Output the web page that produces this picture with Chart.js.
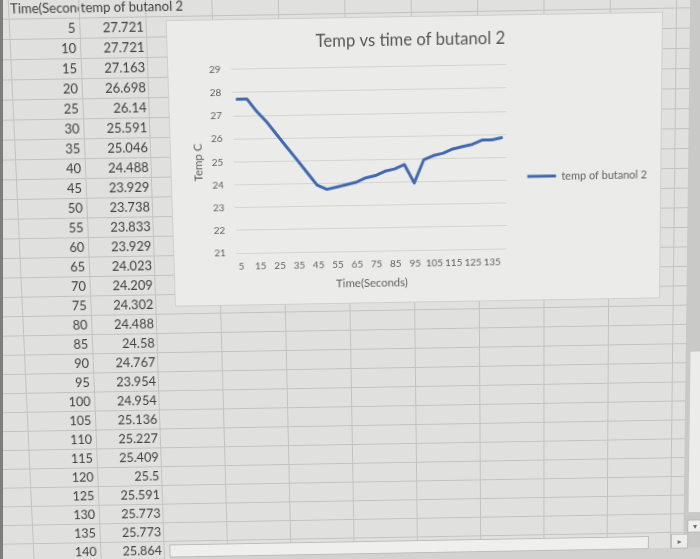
<!DOCTYPE html>
<html>
<head>
<meta charset="utf-8">
<title>Temp vs time of butanol 2</title>
<script src="https://cdn.jsdelivr.net/npm/chart.js@4.4.1/dist/chart.umd.min.js"></script>
<style>
  html, body { margin: 0; padding: 0; width: 700px; height: 559px; overflow: hidden; background: #dededc; }
  #sheet { position: absolute; left: 0; top: 0; width: 760px; height: 640px; transform-origin: 0 0; font-family: Lato, "Open Sans", sans-serif; }
  #sheetBg { position: absolute; left: -60px; top: -40px; width: 860px; height: 720px; background: #e0e1df; }
  .vline { position: absolute; top: -40px; width: 1px; height: 720px; background: #c2c3c1; }
  .hline { position: absolute; left: -60px; width: 860px; height: 1px; background: #c2c3c1; }
  .cell { position: absolute; height: 20px; line-height: 20px; font-size: 13px; color: #3e3e3e; white-space: nowrap; overflow: hidden; box-sizing: border-box; }
  #chartBox { position: absolute; left: 164px; top: 22px; width: 493px; height: 287px; background: #ebecea; border: 1px solid #cfd0ce; }
  #vscroll { position: absolute; left: 686px; top: -40px; width: 80px; height: 720px; background: #c9cac8; }
  #vthumb { position: absolute; left: 691px; top: 367px; width: 14px; height: 170px; background: #ecedeb; }
  #vdown { position: absolute; left: 690px; top: 545px; width: 14px; height: 12px; background: #efefed; border: 1px solid #b9bab8; font-size: 8px; line-height: 12px; text-align: center; color: #666; }
  #hfloor { position: absolute; left: 150px; top: 575px; width: 700px; height: 80px; background: #d2d3d1; }
  #hbar { position: absolute; left: 150px; top: 562px; width: 498px; height: 12px; background: #efefed; border: 1px solid #bcbdbb; }
  #hright { position: absolute; left: 673px; top: 560px; width: 16px; height: 14px; background: #ececea; border: 1px solid #b9bab8; font-size: 8px; line-height: 14px; text-align: center; color: #666; }
  #bezel { position: absolute; left: 0; top: 0; width: 3px; height: 559px; background: #7d7e7c; }
</style>
</head>
<body>
<div id="sheet">
  <div id="sheetBg"></div>
  <div id="grid"></div>
  <div id="table"></div>
  <div id="vscroll"></div>
  <div id="vthumb"></div>
  <div id="vdown">&#9662;</div>
  <div id="hfloor"></div>
  <div id="hbar"></div>
  <div id="hright">&#9656;</div>
  <div id="chartBox"><canvas id="chart" width="493" height="287"></canvas></div>
</div>
<div id="bezel"></div>

<script>
// data, as typed in the sheet
const times = [5, 10, 15, 20, 25, 30, 35, 40, 45, 50, 55, 60, 65, 70,
               75, 80, 85, 90, 95, 100, 105, 110, 115, 120, 125, 130, 135, 140];
const temps = [27.721, 27.721, 27.163, 26.698, 26.14, 25.591, 25.046, 24.488, 23.929, 23.738,
               23.833, 23.929, 24.023, 24.209, 24.302, 24.488, 24.58, 24.767, 23.954, 24.954,
               25.136, 25.227, 25.409, 25.5, 25.591, 25.773, 25.773, 25.864];
const yTickValues = [21, 22, 23, 24, 25, 26, 27, 28, 29];
const headers = ['Time(Seconds)', 'temp of butanol 2'];

const LINE_BLUE = '#4168ae';
const TEXT_GREY = '#5e5e5e';

// --- photo perspective: flat sheet corners -> where they sit in the photo
function homography(src, dst) {
    const A = [], b = [];
    for (let i = 0; i < 4; i++) {
        const [x, y] = src[i], [u, v] = dst[i];
        A.push([x, y, 1, 0, 0, 0, -u * x, -u * y]); b.push(u);
        A.push([0, 0, 0, x, y, 1, -v * x, -v * y]); b.push(v);
    }
    for (let c = 0; c < 8; c++) {
        let p = c;
        for (let r = c + 1; r < 8; r++) if (Math.abs(A[r][c]) > Math.abs(A[p][c])) p = r;
        [A[c], A[p]] = [A[p], A[c]]; [b[c], b[p]] = [b[p], b[c]];
        for (let r = 0; r < 8; r++) {
            if (r === c) continue;
            const f = A[r][c] / A[c][c];
            for (let k = c; k < 8; k++) A[r][k] -= f * A[c][k];
            b[r] -= f * b[c];
        }
    }
    return b.map((v, i) => v / A[i][i]);
}
const h = homography([[78, 18], [672, 18], [78, 558], [672, 558]],
                     [[79, 17.5], [676, 7.5], [100, 542], [670, 532]]);
document.getElementById('sheet').style.transform =
    `matrix3d(${h[0]},${h[3]},0,${h[6]},${h[1]},${h[4]},0,${h[7]},0,0,1,0,${h[2]},${h[5]},0,1)`;

// --- spreadsheet grid and the two data columns
const ROW_H = 20, ROW0 = -2;
const colEdges = [8, 78, 144, 210, 276, 342, 408, 474, 540, 606, 672, 738];
const grid = document.getElementById('grid');
colEdges.forEach(x => {
    const d = document.createElement('div');
    d.className = 'vline'; d.style.left = x + 'px';
    grid.appendChild(d);
});
for (let k = -1; k < 33; k++) {
    const d = document.createElement('div');
    d.className = 'hline'; d.style.top = (ROW0 + k * ROW_H) + 'px';
    grid.appendChild(d);
}

const table = document.getElementById('table');
function addCell(text, col, row, align) {
    const d = document.createElement('div');
    d.className = 'cell';
    d.textContent = text;
    d.style.left = (colEdges[col] + 1) + 'px';
    d.style.width = (colEdges[col + 1] - colEdges[col] - 1) + 'px';
    d.style.top = (ROW0 + row * ROW_H) + 'px';
    d.style.textAlign = align;
    d.style.padding = align === 'right' ? (col === 0 ? '0 4px 0 0' : '0 2px 0 0') : '0 0 0 1px';
    if (row === 0 && col === 1) { d.style.overflow = 'visible'; d.style.zIndex = 2; }
    table.appendChild(d);
}
addCell(headers[0], 0, 0, 'left');
addCell(headers[1], 1, 0, 'left');
times.forEach((t, i) => {
    addCell(String(t), 0, i + 1, 'right');
    addCell(String(temps[i]), 1, i + 1, 'right');
});

// --- chart
// Excel leaves a gap between plot and legend, and centres the title a bit left
const LEGEND_GAP = 11, LEGEND_DROP = 22, TITLE_SHIFT = -7;
const excelPlacement = {
    id: 'excelPlacement',
    beforeInit(chart) {
        const legend = chart.legend;
        if (!legend) return;
        const fit = legend.fit.bind(legend);
        legend.fit = () => {
            fit();
            const pad = legend.options.labels.padding;
            const colW = legend.columnSizes && legend.columnSizes[0] ? legend.columnSizes[0].width : legend.width;
            legend.width = colW + 2 * pad + LEGEND_GAP;
        };
    },
    afterLayout(chart) {
        const legend = chart.legend;
        if (legend) {
            legend.left += LEGEND_GAP;
            legend.top += LEGEND_DROP;
            legend.bottom += LEGEND_DROP;
        }
        const title = chart.titleBlock;
        if (title) {
            title.left += TITLE_SHIFT;
            title.right += TITLE_SHIFT;
        }
    }
};

const ctx = document.getElementById('chart').getContext('2d');
new Chart(ctx, {
    type: 'line',
    data: {
        labels: times,
        datasets: [{
            label: headers[1],
            data: temps,
            borderColor: LINE_BLUE,
            backgroundColor: LINE_BLUE,
            borderWidth: 3,
            pointRadius: 0,
            tension: 0,
            borderJoinStyle: 'round',
            borderCapStyle: 'round'
        }]
    },
    options: {
        responsive: false,
        animation: false,
        layout: { padding: { left: 9, right: 3.4, top: 0, bottom: 8.8 } },
        plugins: {
            title: {
                display: true,
                text: 'Temp vs time of butanol 2',
                color: '#555555',
                font: { family: 'Lato', size: 16.6, weight: 'normal' },
                padding: { top: 12.3, bottom: 16.6 }
            },
            legend: {
                position: 'right',
                labels: {
                    usePointStyle: true,
                    pointStyle: 'line',
                    pointStyleWidth: 29,
                    padding: 10,
                    color: TEXT_GREY,
                    font: { family: 'Lato', size: 11 }
                }
            },
            tooltip: { enabled: false }
        },
        scales: {
            x: {
                offset: true,
                grid: { display: false, drawTicks: false },
                border: { display: false },
                ticks: {
                    autoSkip: false,
                    maxRotation: 0,
                    minRotation: 0,
                    padding: 8,
                    color: TEXT_GREY,
                    font: { family: 'Lato', size: 10 },
                    callback: (v, i) => (i % 2 === 0 ? times[i] : '')
                },
                title: {
                    display: true,
                    text: 'Time(Seconds)',
                    color: TEXT_GREY,
                    font: { family: 'Lato', size: 11.5 },
                    padding: { top: -1.6, bottom: 4 }
                }
            },
            y: {
                min: yTickValues[0],
                max: yTickValues[yTickValues.length - 1],
                grid: { color: '#d3d4d2', drawTicks: false },
                border: { display: false },
                afterBuildTicks: axis => { axis.ticks = yTickValues.map(v => ({ value: v })); },
                ticks: {
                    padding: 10.7,
                    color: TEXT_GREY,
                    font: { family: 'Lato', size: 10 }
                },
                title: {
                    display: true,
                    text: 'Temp C',
                    color: TEXT_GREY,
                    font: { family: 'Lato', size: 11.5 },
                    padding: { top: 11.3, bottom: -4.1 }
                }
            }
        }
    },
    plugins: [excelPlacement]
});
</script>
</body>
</html>
